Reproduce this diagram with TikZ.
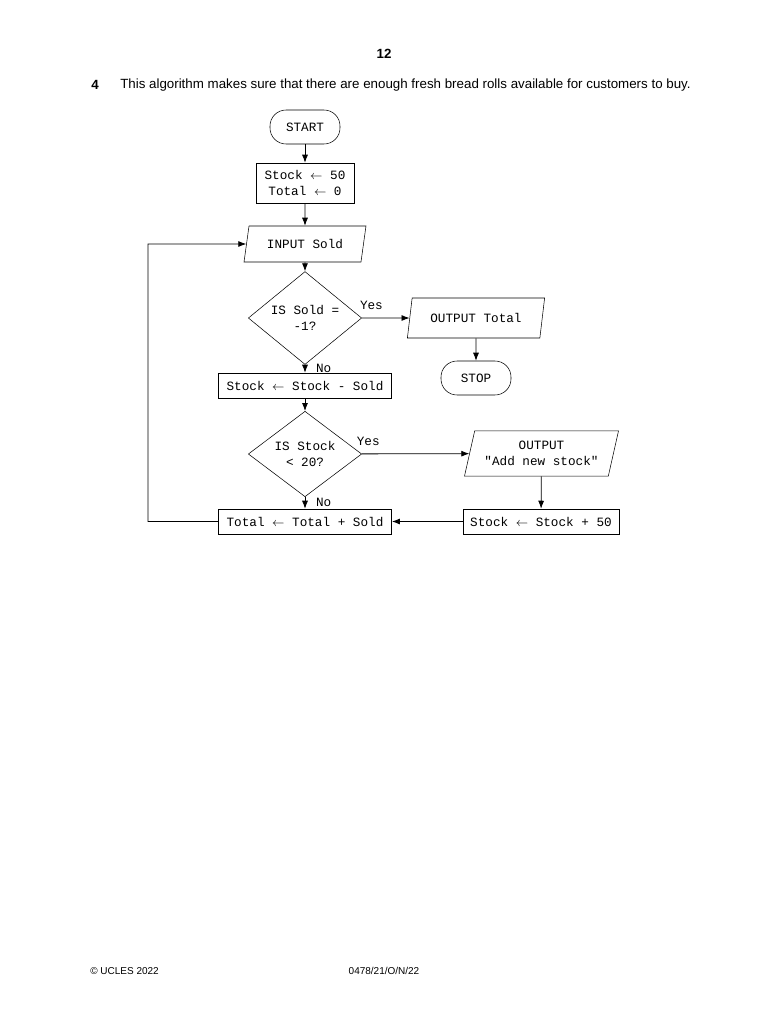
\documentclass[tikz,border=0pt]{standalone}
\usepackage{fontspec}
\setmainfont{Liberation Sans}
\setmonofont{Liberation Mono}
\usetikzlibrary{shapes.geometric,arrows.meta}
\begin{document}
\begin{tikzpicture}[x=0.75pt,y=-0.75pt,
  every node/.style={font=\ttfamily\fontsize{9.5}{11.5}\selectfont, inner sep=0pt},
  term/.style={draw, rounded corners=12pt, minimum width=52.5pt, minimum height=25.5pt},
  proc/.style={draw, minimum height=18.75pt},
  io/.style={draw, trapezium, trapezium left angle=70, trapezium right angle=110, trapezium stretches=true, minimum height=27pt},
  dec/.style={draw, diamond, minimum width=85pt, minimum height=45pt, align=center},
  lbl/.style={font=\ttfamily\fontsize{9.5}{11}\selectfont},
  arr/.style={-{Latex[length=6pt,width=4.5pt]}, line width=0.6pt}]
\useasboundingbox (0,0) rectangle (768,1024);
\node[font=\sffamily\bfseries\fontsize{10}{12}\selectfont, font=\bfseries\fontsize{10}{12}\selectfont] (pg) at (384,54) {12};
\node[font=\bfseries\fontsize{10}{12}\selectfont] (q) at (95,85) {4};
\node[font=\fontsize{10}{12}\selectfont, anchor=west] (intro) at (120,85) {This algorithm makes sure that there are enough fresh bread rolls available for customers to buy.};
\node[term] (start) at (305,127) {START};
\node[proc, minimum width=73.5pt, minimum height=30pt, align=center] (init) at (305,183) {Stock $\leftarrow$ 50\\Total $\leftarrow$ 0};
\node[io, minimum width=91.5pt] (in) at (305,244) {INPUT Sold};
\node[dec] (d1) at (305,318) {IS Sold =\\-1?};
\node[io, minimum width=103pt, minimum height=30pt] (out) at (476,318) {OUTPUT Total};
\node[term] (stop) at (476,378) {STOP};
\node[proc, minimum width=130pt] (sub) at (305,385.5) {Stock $\leftarrow$ Stock - Sold};
\node[dec] (d2) at (305,454) {IS Stock\\< 20?};
\node[io, minimum width=116pt, minimum height=34pt, align=center] (out2) at (541.5,453.5) {OUTPUT\\"Add new stock"};
\node[proc, minimum width=117pt] (add) at (541,521.5) {Stock $\leftarrow$ Stock + 50};
\node[proc, minimum width=130pt] (tot) at (305,521.5) {Total $\leftarrow$ Total + Sold};
\coordinate (c1) at (148,521.5);
\coordinate (c2) at (148,244);
\draw[arr] (start) -- (init);
\draw[arr] (init) -- (in);
\draw[arr] (in) -- (d1);
\draw[arr] (d1) -- node[lbl, pos=0.2, above=6pt] {Yes} (out);
\draw[arr] (out) -- (stop);
\draw[arr] (d1) -- node[lbl, pos=0.45, right=8pt] {No} (sub);
\draw[arr] (sub) -- (d2);
\draw[arr] (d2) -- node[lbl, pos=0.06, above=6pt] {Yes} (out2);
\draw[arr] (out2) -- (add);
\draw[arr] (add) -- (tot);
\draw[arr] (d2) -- node[lbl, pos=0.45, right=8pt] {No} (tot);
\draw[arr] (tot.west) -- (c1) -- (c2) -- (in);
\node[font=\fontsize{7.5}{9}\selectfont, anchor=west] (f1) at (90,971) {© UCLES 2022};
\node[font=\fontsize{7.5}{9}\selectfont] (f2) at (384,971) {0478/21/O/N/22};
\end{tikzpicture}
\end{document}
